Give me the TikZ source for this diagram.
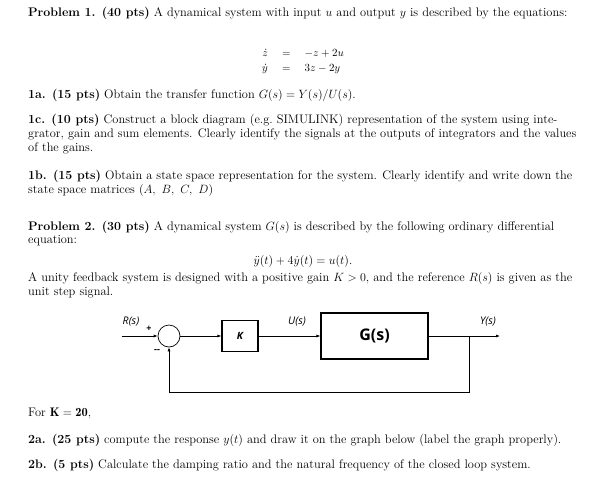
\documentclass[tikz,border=0pt]{standalone}
\usepackage{amsmath}
\usepackage{fontspec}
\newfontfamily\dsans{Open Sans}
\usetikzlibrary{arrows.meta}
\begin{document}
\begin{tikzpicture}[x=1pt,y=-1pt,
  txt/.style={anchor=west,inner sep=0pt,font=\fontsize{12.4}{14}\selectfont},
  blk/.style={draw,line width=1.2pt,inner sep=0pt},
  sig/.style={line width=0.7pt},
  lab/.style={font=\dsans\itshape\fontsize{10.5}{12}\selectfont,inner sep=0pt}]
\useasboundingbox (0,0) rectangle (606,480);
\node[txt] (p1) at (28,13) {\textbf{Problem 1. (40 pts)} A dynamical system with input $u$ and output $y$ is described by the equations:};
\node[inner sep=0pt,font=\fontsize{11}{12}\selectfont] (eq1) at (303,62) {$\begin{aligned}\dot z \quad&=\quad -z+2u\\[0pt] \dot y\quad&=\quad 3z-2y\end{aligned}$};
\node[txt] (a1) at (28,95) {\textbf{1a. (15 pts)} Obtain the transfer function $G(s)=Y(s)/U(s)$.};
\node[txt] (c1) at (28,120) {\textbf{1c. (10 pts)} Construct a block diagram (e.g.\ SIMULINK) representation of the system using inte-};
\node[txt] (c2) at (28,134) {grator, gain and sum elements. Clearly identify the signals at the outputs of integrators and the values};
\node[txt] (c3) at (28,148) {of the gains.};
\node[txt] (b1) at (28,176) {\textbf{1b. (15 pts)} Obtain a state space representation for the system. Clearly identify and write down the};
\node[txt] (b2) at (28,190) {state space matrices $(A,\ B,\ C,\ D)$};
\node[txt] (p2) at (28,227) {\textbf{Problem 2. (30 pts)} A dynamical system $G(s)$ is described by the following ordinary differential};
\node[txt] (p2b) at (28,241) {equation:};
\node[inner sep=0pt,font=\fontsize{12}{13}\selectfont] (eq2) at (303,261) {$\ddot y(t)+4\dot y(t)=u(t).$};
\node[txt] (u1) at (28,278) {A unity feedback system is designed with a positive gain $K>0$, and the reference $R(s)$ is given as the};
\node[txt] (u2) at (28,292) {unit step signal.};
% diagram
\coordinate (in) at (122,336);
\node[draw,circle,minimum size=22pt,inner sep=0pt,line width=0.7pt] (sum) at (169,336) {};
\node[blk,minimum width=36pt,minimum height=31pt,font=\dsans\bfseries\itshape\fontsize{10}{12}\selectfont] (K) at (240,336) {K};
\node[blk,minimum width=107pt,minimum height=46pt,font=\dsans\bfseries\fontsize{16}{18}\selectfont] (G) at (374.5,336) {G(s)};
\coordinate (br) at (469,336);
\coordinate (out) at (500,336);
\draw[sig,-{Latex[length=4pt]}] (in) -- (sum);
\draw[sig,-{Latex[length=4pt]}] (sum) -- (K);
\draw[sig,-{Latex[length=4pt]}] (K) -- (G);
\draw[sig,-{Latex[length=4pt]}] (G) -- (out);
\draw[sig,-{Latex[length=4pt]}] (br) |- (169,392) -- (sum);
\node[lab] (rl) at (131,322) {R(s)};
\node[lab] (ul) at (297,322) {U(s)};
\node[lab] (yl) at (488,322) {Y(s)};
\node[inner sep=0pt,font=\dsans\bfseries\fontsize{9}{10}\selectfont] (pl) at (149,329) {+};
\node[inner sep=0pt,font=\dsans\bfseries\fontsize{9}{10}\selectfont] (mi) at (157,351) {--};
\node[txt] (f1) at (28,413) {For $\mathbf{K=20}$,};
\node[txt] (a2) at (28,440) {\textbf{2a. (25 pts)} compute the response $y(t)$ and draw it on the graph below (label the graph properly).};
\node[txt] (b2b) at (28,465) {\textbf{2b. (5 pts)} Calculate the damping ratio and the natural frequency of the closed loop system.};
\end{tikzpicture}
\end{document}
